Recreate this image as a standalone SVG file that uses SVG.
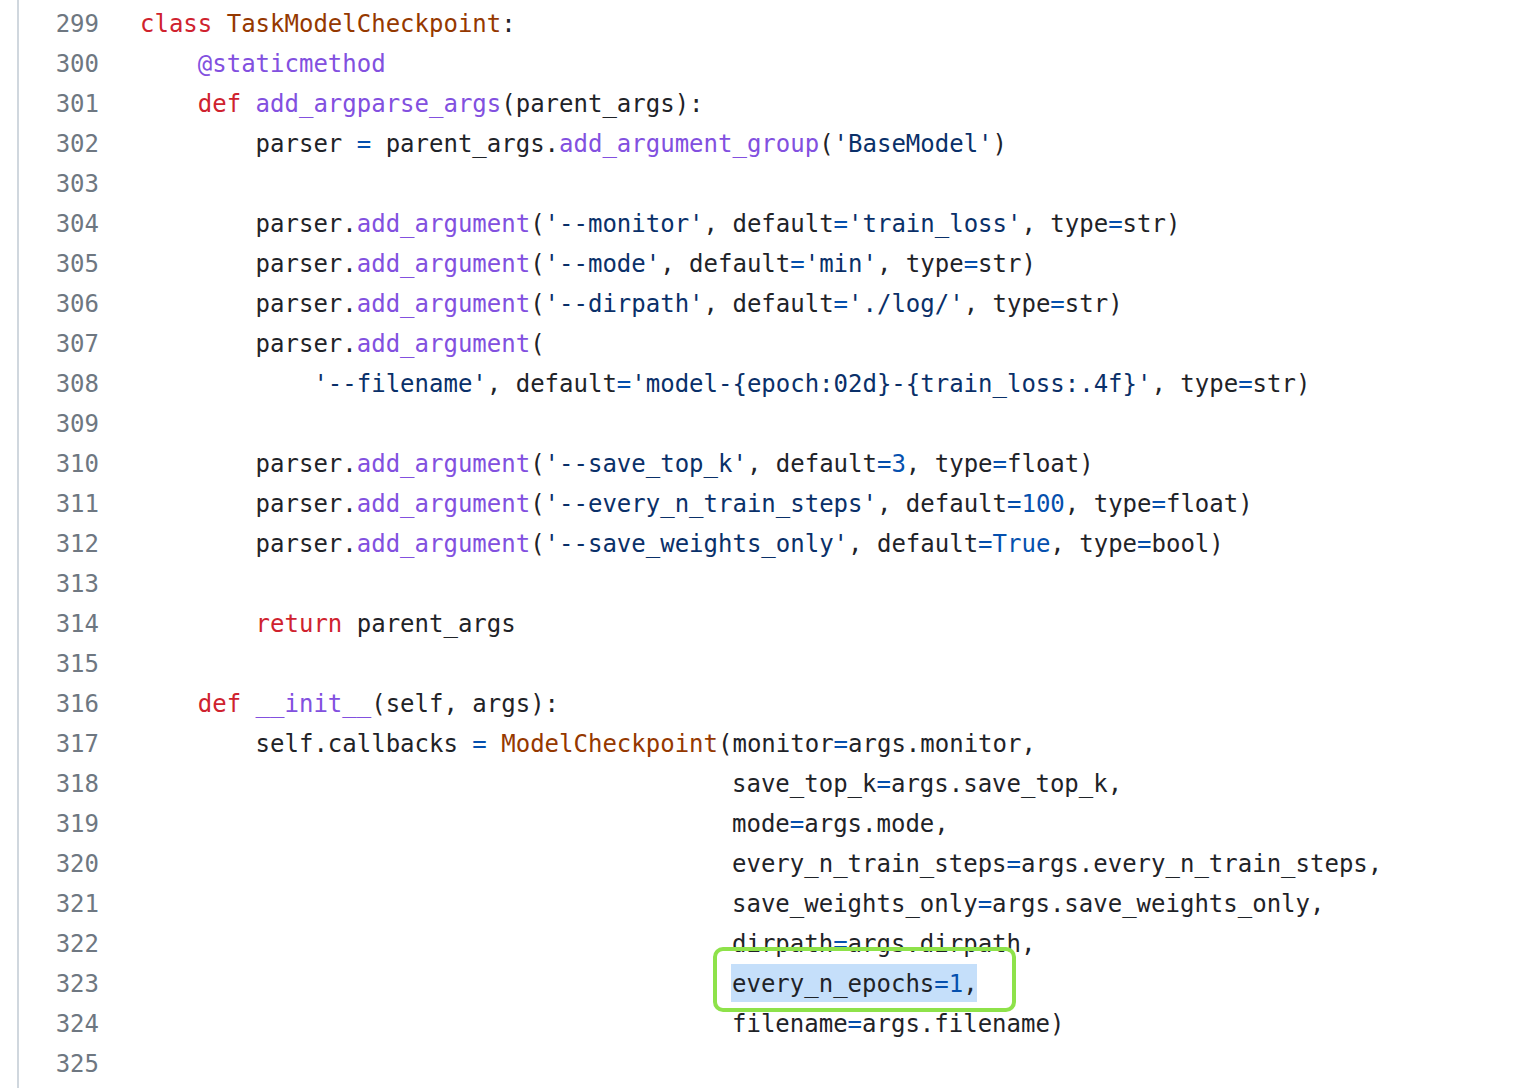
<svg xmlns="http://www.w3.org/2000/svg" width="1538" height="1088" viewBox="0 0 1538 1088">
<style>
text{font-family:"DejaVu Sans Mono","Liberation Mono",monospace;font-size:24px;fill:#1f2328;white-space:pre}
.n{fill:#6e7781;text-anchor:end}
.k{fill:#cf222e}.c{fill:#953800}.f{fill:#8250df}.s{fill:#0a3069}.b{fill:#0550ae}
</style>
<rect width="1538" height="1088" fill="#fff"/>
<rect x="17" y="0" width="2" height="1088" fill="#d0d7de"/>
<rect x="731" y="964" width="246" height="38" fill="#c5dffa"/>
<g id="linenums">
<text class="n" x="99" y="32">299</text><text class="n" x="99" y="72">300</text><text class="n" x="99" y="112">301</text><text class="n" x="99" y="152">302</text><text class="n" x="99" y="192">303</text><text class="n" x="99" y="232">304</text><text class="n" x="99" y="272">305</text><text class="n" x="99" y="312">306</text><text class="n" x="99" y="352">307</text><text class="n" x="99" y="392">308</text><text class="n" x="99" y="432">309</text><text class="n" x="99" y="472">310</text><text class="n" x="99" y="512">311</text><text class="n" x="99" y="552">312</text><text class="n" x="99" y="592">313</text><text class="n" x="99" y="632">314</text><text class="n" x="99" y="672">315</text><text class="n" x="99" y="712">316</text><text class="n" x="99" y="752">317</text><text class="n" x="99" y="792">318</text><text class="n" x="99" y="832">319</text><text class="n" x="99" y="872">320</text><text class="n" x="99" y="912">321</text><text class="n" x="99" y="952">322</text><text class="n" x="99" y="992">323</text><text class="n" x="99" y="1032">324</text><text class="n" x="99" y="1072">325</text>
</g>
<g id="code">
<text x="140" y="32"><tspan class="k">class</tspan> <tspan class="c">TaskModelCheckpoint</tspan>:</text>
<text x="197.8" y="72"><tspan class="f">@staticmethod</tspan></text>
<text x="197.8" y="112"><tspan class="k">def</tspan> <tspan class="f">add_argparse_args</tspan>(parent_args):</text>
<text x="255.6" y="152">parser <tspan class="b">=</tspan> parent_args.<tspan class="f">add_argument_group</tspan>(<tspan class="s">'BaseModel'</tspan>)</text>
<text x="255.6" y="232">parser.<tspan class="f">add_argument</tspan>(<tspan class="s">'--monitor'</tspan>, default<tspan class="b">=</tspan><tspan class="s">'train_loss'</tspan>, type<tspan class="b">=</tspan>str)</text>
<text x="255.6" y="272">parser.<tspan class="f">add_argument</tspan>(<tspan class="s">'--mode'</tspan>, default<tspan class="b">=</tspan><tspan class="s">'min'</tspan>, type<tspan class="b">=</tspan>str)</text>
<text x="255.6" y="312">parser.<tspan class="f">add_argument</tspan>(<tspan class="s">'--dirpath'</tspan>, default<tspan class="b">=</tspan><tspan class="s">'./log/'</tspan>, type<tspan class="b">=</tspan>str)</text>
<text x="255.6" y="352">parser.<tspan class="f">add_argument</tspan>(</text>
<text x="313.4" y="392"><tspan class="s">'--filename'</tspan>, default<tspan class="b">=</tspan><tspan class="s">'model-{epoch:02d}-{train_loss:.4f}'</tspan>, type<tspan class="b">=</tspan>str)</text>
<text x="255.6" y="472">parser.<tspan class="f">add_argument</tspan>(<tspan class="s">'--save_top_k'</tspan>, default<tspan class="b">=3</tspan>, type<tspan class="b">=</tspan>float)</text>
<text x="255.6" y="512">parser.<tspan class="f">add_argument</tspan>(<tspan class="s">'--every_n_train_steps'</tspan>, default<tspan class="b">=100</tspan>, type<tspan class="b">=</tspan>float)</text>
<text x="255.6" y="552">parser.<tspan class="f">add_argument</tspan>(<tspan class="s">'--save_weights_only'</tspan>, default<tspan class="b">=True</tspan>, type<tspan class="b">=</tspan>bool)</text>
<text x="255.6" y="632"><tspan class="k">return</tspan> parent_args</text>
<text x="197.8" y="712"><tspan class="k">def</tspan> <tspan class="f">__init__</tspan>(self, args):</text>
<text x="255.6" y="752">self.callbacks <tspan class="b">=</tspan> <tspan class="c">ModelCheckpoint</tspan>(monitor<tspan class="b">=</tspan>args.monitor,</text>
<text x="732" y="792">save_top_k<tspan class="b">=</tspan>args.save_top_k,</text>
<text x="732" y="832">mode<tspan class="b">=</tspan>args.mode,</text>
<text x="732" y="872">every_n_train_steps<tspan class="b">=</tspan>args.every_n_train_steps,</text>
<text x="732" y="912">save_weights_only<tspan class="b">=</tspan>args.save_weights_only,</text>
<text x="732" y="952">dirpath<tspan class="b">=</tspan>args.dirpath,</text>
<text x="732" y="992">every_n_epochs<tspan class="b">=1</tspan>,</text>
<text x="732" y="1032">filename<tspan class="b">=</tspan>args.filename)</text>
</g>
<rect x="715" y="949" width="299" height="61" rx="8" fill="none" stroke="#8ee24a" stroke-width="4"/>
</svg>
